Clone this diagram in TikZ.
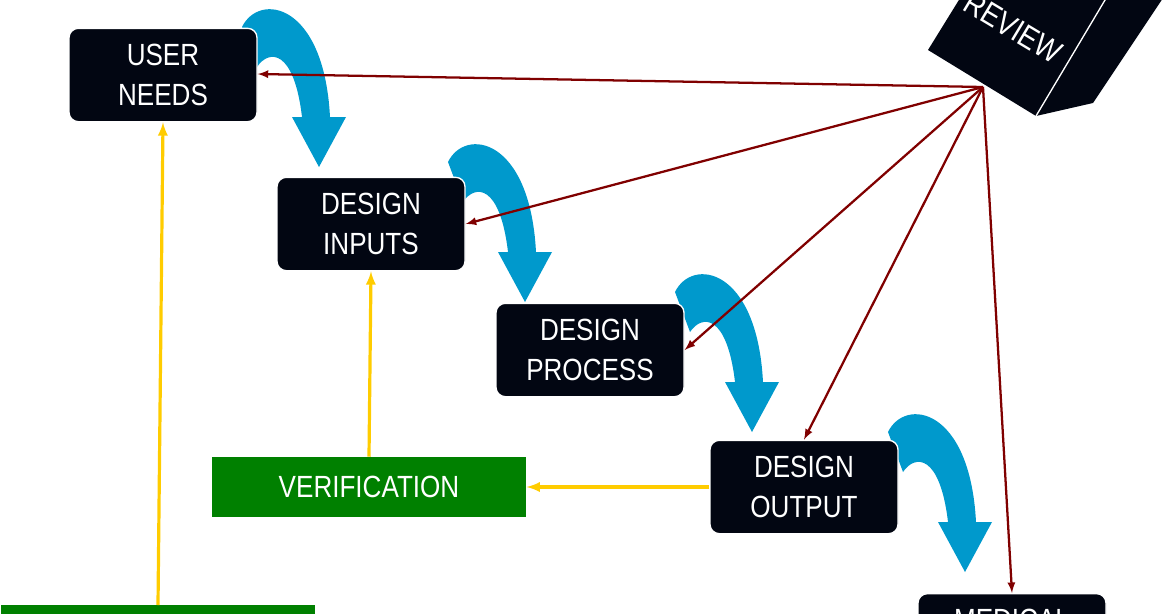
\documentclass[tikz,border=0pt]{standalone}
\usepackage{fontspec}
\setmainfont{Liberation Sans}[FakeStretch=0.85]
\definecolor{boxblack}{RGB}{2,6,18}
\definecolor{arrblue}{RGB}{0,153,204}
\definecolor{revred}{RGB}{128,0,0}
\definecolor{yel}{RGB}{255,204,0}
\definecolor{grn}{RGB}{0,128,0}
\begin{document}
\begin{tikzpicture}[x=0.75pt,y=-0.75pt,
  box/.style={fill=boxblack,draw=white,line width=1pt,rounded corners=7pt,minimum width=141pt,minimum height=70pt,text=white,font=\fontsize{23}{30}\selectfont,align=center,inner sep=0pt},
  gbox/.style={fill=grn,minimum width=236pt,minimum height=45pt,text=white,font=\fontsize{23}{27}\selectfont,inner sep=0pt},
  rev/.style={draw=revred,line width=1.7pt,-latex},
  yl/.style={draw=yel,line width=2.4pt,-latex},
  bluearrow/.pic={\fill[arrblue] (-77,-140) .. controls (-60,-175) and (5,-165) .. (11,-50) -- (27,-50) -- (0,0) -- (-27,-50) -- (-17,-50) .. controls (-25,-118) and (-50,-118) .. (-62,-100) -- cycle;}]
\useasboundingbox (0,0) rectangle (1168,614);
\begin{scope}
\clip (0,0) rectangle (1168,614);
\pic at (319,167) {bluearrow};
\pic at (525,302) {bluearrow};
\pic at (752,432) {bluearrow};
\pic at (965,572) {bluearrow};
\node[box] (un) at (163,75) {USER\\NEEDS};
\node[box] (di) at (371,224) {DESIGN\\INPUTS};
\node[box] (dp) at (590,350) {DESIGN\\PROCESS};
\node[box] (do) at (804,487) {DESIGN\\OUTPUT};
\node[box,anchor=north] (md) at (1012,593) {MEDICAL\\DEVICE};
\node[gbox] (ver) at (369,487) {VERIFICATION};
\node[gbox,anchor=north] (val) at (158,605) {};
\fill[boxblack] (928,50) -- (962,-5) -- (1165,-5) -- (1093,103) -- (1036,116) -- cycle;
\draw[white,line width=1pt] (1036,116) -- (1108,-5);
\node[white,rotate=-31,font=\fontsize{24}{28}\selectfont] (rv) at (1013,28) {REVIEW};
\coordinate (hub) at (983,87);
\draw[rev] (hub) -- (un.east |- 0,74);
\draw[rev] (hub) -- (di.east);
\draw[rev] (hub) -- (dp.east);
\draw[rev] (hub) -- (do.north);
\draw[rev] (hub) -- (md.north);
\draw[yl] (do.west) -- (ver.east);
\draw[yl] (ver.north) -- (di.south);
\draw[yl] (val.north) -- (un.south);
\end{scope}
\end{tikzpicture}
\end{document}
